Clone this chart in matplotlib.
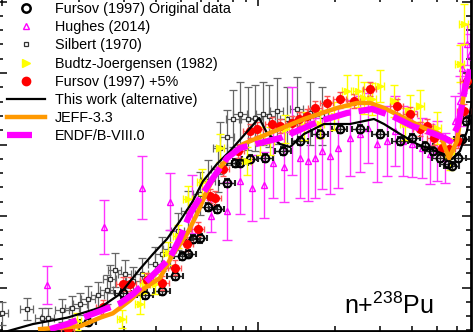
import matplotlib
matplotlib.use('Agg')
import matplotlib.pyplot as plt
from matplotlib.lines import Line2D
from matplotlib.ticker import MultipleLocator, LogLocator

plt.rcParams['font.family'] = ['Liberation Sans', 'DejaVu Sans']
plt.rcParams['mathtext.fontset'] = 'custom'
plt.rcParams['mathtext.rm'] = 'Liberation Sans'
plt.rcParams['mathtext.default'] = 'rm'

# --- measured data (energy in MeV, cross section in b) ---
fursov_x = [0.217, 0.297, 0.362, 0.422, 0.474, 0.505, 0.533, 0.557, 0.593, 0.638, 0.691, 0.757,
            0.813, 0.851, 0.931, 1.065, 1.252, 1.459, 1.746, 2.089, 2.502, 2.996, 3.587, 4.0,
            4.49, 4.83, 5.14, 5.52, 5.72, 6.04, 6.26, 6.49]
fursov_y = [0.76, 0.96, 0.95, 0.975, 1.08, 1.22, 1.235, 1.34, 1.345, 1.565, 1.55, 1.73,
            1.87, 1.87, 1.90, 1.905, 1.955, 2.025, 2.075, 2.11, 2.11, 2.075, 2.025, 2.045,
            1.99, 1.955, 1.905, 1.865, 1.85, 1.905, 2.04, 2.165]

hughes_x = [0.150, 0.250, 0.352, 0.453, 0.552, 0.655, 0.757, 0.851, 0.947, 1.055, 1.144, 1.263,
            1.358, 1.459, 1.567, 1.67, 1.778, 1.91, 2.054, 2.287, 2.502, 2.69, 2.917, 3.19,
            3.43, 3.68, 4.0, 4.37, 4.70, 5.0, 5.36, 5.88, 6.15, 6.26, 6.55, 6.73]
hughes_y = [1.018, 1.424, 1.697, 1.60, 1.585, 1.50, 1.535, 1.745, 1.695, 1.715, 1.87, 1.845,
            2.095, 1.905, 1.885, 1.905, 1.955, 1.92, 1.976, 2.046, 2.074, 2.116, 2.004, 2.025,
            2.095, 2.025, 2.004, 1.976, 1.934, 1.955, 1.906, 2.165, 2.305, 2.536, 2.70, 2.635]
hughes_e = [0.13, 0.19, 0.22, 0.2, 0.2, 0.11, 0.2, 0.23, 0.23, 0.23, 0.245, 0.245,
            0.31, 0.28, 0.28, 0.28, 0.265, 0.265, 0.28, 0.265, 0.265, 0.245, 0.265, 0.245,
            0.245, 0.245, 0.23, 0.21, 0.21, 0.21, 0.175, 0.175, 0.175, 0.175, 0.14, 0.14]

silbert_x = [0.100, 0.125, 0.143, 0.151, 0.172, 0.188, 0.202, 0.217, 0.237, 0.257, 0.264, 0.276,
             0.302, 0.325, 0.352, 0.396, 0.422, 0.453, 0.487, 0.533, 0.593, 0.638, 0.698, 0.711,
             0.757, 0.798, 0.851, 0.914, 0.973, 1.046, 1.104, 1.186, 1.298, 1.42, 1.596, 1.778]
silbert_y = [0.82, 0.85, 0.79, 0.79, 0.84, 0.86, 0.885, 0.92, 0.95, 0.985, 1.06, 1.125,
             1.095, 1.045, 1.095, 1.165, 1.235, 1.27, 1.395, 1.535, 1.655, 1.745, 1.83, 1.975,
             2.05, 2.18, 2.215, 2.18, 2.185, 2.215, 2.20, 2.235, 2.18, 2.25, 2.22, 2.20]
silbert_e = [0.08, 0.08, 0.07, 0.07, 0.08, 0.08, 0.08, 0.09, 0.09, 0.1, 0.1, 0.12,
             0.1, 0.1, 0.11, 0.12, 0.12, 0.13, 0.13, 0.14, 0.15, 0.15, 0.16, 0.18,
             0.19, 0.2, 0.22, 0.22, 0.23, 0.22, 0.22, 0.23, 0.22, 0.22, 0.22, 0.2]

budtz_x = [0.196, 0.294, 0.346, 0.362, 0.396, 0.445, 0.487, 0.533, 0.604, 0.711, 0.906, 1.018,
           1.114, 1.275, 1.512, 1.746, 1.98, 2.227, 2.458, 2.595, 2.788, 2.996, 3.40, 3.75,
           3.926, 4.295, 5.0, 5.62, 6.15, 6.37]
budtz_y = [0.765, 0.78, 0.885, 1.03, 1.025, 1.24, 1.36, 1.62, 1.74, 1.975, 1.885, 2.025,
           2.025, 2.11, 2.13, 2.145, 2.20, 2.375, 2.375, 2.325, 2.32, 2.41, 2.305, 2.145,
           2.235, 2.27, 2.115, 1.935, 2.565, 2.845]
budtz_e = [0.06, 0.06, 0.07, 0.07, 0.07, 0.08, 0.08, 0.09, 0.09, 0.1, 0.1, 0.1,
           0.1, 0.1, 0.1, 0.1, 0.1, 0.11, 0.11, 0.11, 0.11, 0.11, 0.11, 0.11,
           0.11, 0.11, 0.11, 0.11, 0.13, 0.14]

fursov5_x = [0.181, 0.248, 0.297, 0.316, 0.368, 0.422, 0.474, 0.528, 0.583, 0.649, 0.679, 0.730,
             0.835, 0.931, 0.991, 1.134, 1.219, 1.358, 1.446, 1.553, 1.67, 1.86, 2.089, 2.371,
             2.738, 3.49, 3.926, 4.295, 4.57, 4.87, 5.23, 5.57, 6.04, 6.37, 6.55]
fursov5_y = [0.71, 0.865, 1.025, 1.025, 1.055, 1.03, 1.14, 1.305, 1.41, 1.64, 1.625, 1.83,
             1.955, 2.095, 2.11, 2.145, 2.13, 2.15, 2.18, 2.20, 2.255, 2.29, 2.32, 2.305,
             2.39, 2.27, 2.215, 2.11, 2.13, 2.045, 1.975, 1.97, 2.025, 2.235, 2.445]

# --- evaluations ---
work_x = [0.098, 0.132, 0.180, 0.242, 0.289, 0.346, 0.389, 0.441, 0.496, 0.557, 0.610, 0.691,
          0.777, 0.890, 1.01, 1.084, 1.219, 1.334, 1.512, 1.811, 2.287, 2.837, 3.105, 3.587,
          4.18, 4.70, 5.32, 5.72, 6.15, 6.55, 6.85]
work_y = [0.68, 0.745, 0.79, 0.86, 0.955, 1.13, 1.235, 1.34, 1.466, 1.606, 1.745, 1.864,
          1.955, 2.074, 2.186, 2.081, 2.004, 1.983, 2.074, 2.144, 2.144, 2.179, 2.144, 2.074,
          2.004, 1.969, 1.934, 1.899, 1.955, 2.095, 2.305]

jeff_x = [0.141, 0.202, 0.242, 0.271, 0.316, 0.346, 0.414, 0.466, 0.528, 0.578, 0.632, 0.691,
          0.777, 0.874, 1.114, 1.512, 2.036, 2.436, 2.738, 3.105, 3.72, 4.45, 5.14, 5.57,
          5.99, 6.37, 6.73]
jeff_y = [0.71, 0.73, 0.79, 0.82, 0.91, 0.975, 1.067, 1.235, 1.375, 1.515, 1.675, 1.815,
          1.92, 2.004, 2.081, 2.179, 2.256, 2.291, 2.291, 2.256, 2.186, 2.116, 2.074, 1.906,
          2.025, 2.354, 2.48]

endf_x = [0.154, 0.180, 0.207, 0.242, 0.289, 0.325, 0.368, 0.414, 0.453, 0.496, 0.542, 0.593,
          0.667, 0.757, 0.851, 1.219, 1.42, 1.746, 2.227, 2.788, 3.338, 4.0, 4.78, 5.36,
          5.62, 6.04, 6.43, 6.85]
endf_y = [0.71, 0.745, 0.79, 0.836, 0.89, 0.955, 1.046, 1.137, 1.207, 1.347, 1.515, 1.627,
          1.766, 1.906, 1.976, 2.046, 2.095, 2.165, 2.221, 2.249, 2.20, 2.13, 2.081, 2.046,
          2.025, 2.13, 2.389, 2.585]

W, H = 474, 332
fig = plt.figure(figsize=(W / 100, H / 100), dpi=100)
ax = fig.add_axes([-2 / W, 1.5 / H, 473 / W, 333.2 / H])

ax.errorbar(silbert_x, silbert_y, yerr=silbert_e, xerr=[0.06 * x for x in silbert_x],
            fmt='s', ms=3.5, mfc='white', mec='#333333', mew=0.9,
            ecolor='#666666', elinewidth=0.9, capsize=3, capthick=0.9, zorder=2)
ax.errorbar(hughes_x, hughes_y, yerr=hughes_e, fmt='^', ms=4.5, mfc='none', mec='#ff00ff',
            mew=1.0, ecolor='#ff33ff', elinewidth=1.0, capsize=3.5, capthick=1.0, zorder=2)
ax.errorbar(fursov_x, fursov_y, yerr=0.03, xerr=[0.07 * x for x in fursov_x],
            fmt='o', ms=5.5, mfc='none', mec='black', mew=1.5,
            ecolor='#222222', elinewidth=1.0, capsize=2.5, capthick=1.0, zorder=3)
ax.errorbar(budtz_x, budtz_y, yerr=budtz_e, xerr=[0.04 * x for x in budtz_x],
            fmt='>', ms=5, color='#ffff00', ecolor='#ffff00', elinewidth=1.0,
            capsize=3, capthick=1.0, zorder=3)
ax.errorbar(fursov5_x, fursov5_y, yerr=0.05, xerr=[0.06 * x for x in fursov5_x],
            fmt='o', ms=5.5, color='#ff0000', ecolor='#ff5555', elinewidth=1.0,
            capsize=2, capthick=1.0, zorder=3)

ax.plot(work_x, work_y, color='black', lw=1.6, zorder=5)
ax.plot(jeff_x, jeff_y, color='#ff9900', lw=3.2, zorder=5)
ax.plot(endf_x, endf_y, color='#ff00ff', lw=4.5, dashes=(4.5, 1.3), zorder=6)

ax.set_xscale('log')
ax.set_xlim(0.0965, 6.79)
ax.set_ylim(0.7, 3.03)
ax.xaxis.set_major_locator(LogLocator(base=10))
ax.xaxis.set_minor_locator(LogLocator(base=10, subs=range(2, 10)))
ax.yaxis.set_major_locator(MultipleLocator(0.5))
ax.yaxis.set_minor_locator(MultipleLocator(0.1))
ax.tick_params(which='both', direction='in', top=True, right=True,
               labelbottom=False, labelleft=False)
ax.tick_params(which='major', length=6.2, width=1.1)
ax.tick_params(which='minor', length=3.8, width=1.1)
for s in ax.spines.values():
    s.set_linewidth(2)

handles = [
    Line2D([], [], ls='none', marker='o', ms=6, mfc='none', mec='black', mew=1.8),
    Line2D([], [], ls='none', marker='^', ms=4.5, mfc='none', mec='#ff00ff', mew=1.0),
    Line2D([], [], ls='none', marker='s', ms=3.5, mfc='white', mec='#333333', mew=0.9),
    Line2D([], [], ls='none', marker='>', ms=5.5, color='#ffff00'),
    Line2D([], [], ls='none', marker='o', ms=6, color='#ff0000'),
    Line2D([], [], color='black', lw=1.6),
    Line2D([], [], color='#ff9900', lw=3.2),
    Line2D([], [], color='#ff00ff', lw=4.5, dashes=(4.0, 3.0)),
]
labels = ['Fursov (1997) Original data', 'Hughes (2014)', 'Silbert (1970)',
          'Budtz-Joergensen (1982)', 'Fursov (1997) +5%', 'This work (alternative)',
          'JEFF-3.3', 'ENDF/B-VIII.0']
fig.legend(handles, labels, loc='upper left', bbox_to_anchor=(7 / W, 1 - 2 / H),
           bbox_transform=fig.transFigure, frameon=False, fontsize=10.4,
           borderpad=0, borderaxespad=0, handlelength=2.63, handletextpad=0.69,
           labelspacing=0.29)

fig.text(344 / W, (H - 314) / H, r'n+$^{238}$Pu', fontsize=18, va='baseline', ha='left')

fig.savefig('out.png', dpi=100)
